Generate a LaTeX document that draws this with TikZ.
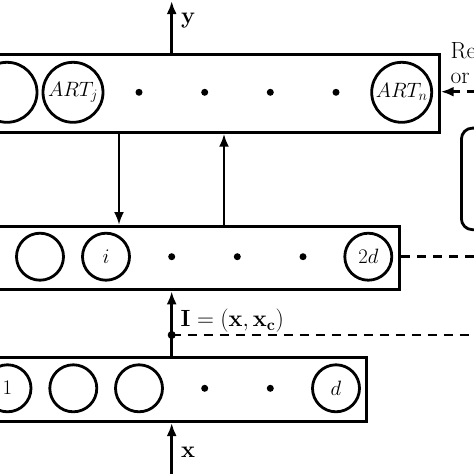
\documentclass[tikz,border=0pt]{standalone}
\usepackage{graphicx}
\usetikzlibrary{arrows.meta}
\newcommand{\biglbl}[1]{\scalebox{1.13}{#1}}
\begin{document}
\begin{tikzpicture}[x=1pt,y=-1pt,
  every node/.style={font=\fontsize{20.74}{25}\selectfont},
  layerbox/.style={draw,line width=3pt,rectangle,inner sep=0pt},
  bigunit/.style={draw,circle,line width=2.8pt,minimum size=60pt,inner sep=0pt},
  unit/.style={draw,circle,line width=2.8pt,minimum size=47pt,inner sep=0pt},
  ell/.style={circle,fill,inner sep=0pt,minimum size=7pt},
  conn/.style={line width=2.8pt,-{Latex[length=13pt,width=10pt]}},
  dashconn/.style={line width=2.8pt,dash pattern=on 9pt off 7pt},
  lbl/.style={inner sep=0pt}]
\useasboundingbox (0,0) rectangle (474,474);
\clip (0,0) rectangle (474,474);
% layer boxes
\node[layerbox,minimum width=520pt,minimum height=77.4pt,anchor=north east] (top) at (440.7,53.3) {};
\node[layerbox,minimum width=520pt,minimum height=63.3pt,anchor=north east] (mid) at (401,225) {};
\node[layerbox,minimum width=520pt,minimum height=64.3pt,anchor=north east] (bot) at (368.3,355.7) {};
% top layer
\node[bigunit] (t0) at (7,92.3) {};
\node[bigunit] (tj) at (73,92.3) {$ART_j$};
\node[ell] (td1) at (139,92.3) {};
\node[ell] (td2) at (204.7,92.3) {};
\node[ell] (td3) at (270.3,92.3) {};
\node[ell] (td4) at (336,92.3) {};
\node[bigunit] (tn) at (401.7,92.3) {$ART_n$};
% middle layer
\node[unit] (m0) at (40,256.7) {};
\node[unit] (mi) at (106,256.7) {$i$};
\node[ell] (md1) at (171.7,256.7) {};
\node[ell] (md2) at (237.3,256.7) {};
\node[ell] (md3) at (303,256.7) {};
\node[unit] (m2d) at (368.3,256.7) {$2d$};
% bottom layer
\node[unit] (b1) at (7.5,388.3) {$1$};
\node[unit] (b2) at (73.3,388.3) {};
\node[unit] (b3) at (139,388.3) {};
\node[ell] (bd1) at (204.7,388.3) {};
\node[ell] (bd2) at (270.3,388.3) {};
\node[unit] (bd) at (336,388.3) {$d$};
% coordinates
\coordinate (yout) at (171.7,1);
\coordinate (xin) at (171.7,476);
\node[circle,fill,inner sep=0pt,minimum size=8pt] (junc) at (171.7,335) {};
\coordinate (dashA) at (476,256.7);
\coordinate (dashB) at (476,335);
\coordinate (dashC) at (476,91.7);
% connectors
\draw[conn] (top.north -| yout) -- (yout);
\draw[conn] (top.south -| 119,0) -- (mid.north -| 119,0);
\draw[conn] (mid.north -| 224,0) -- (top.south -| 224,0);
\draw[conn] (bot.north -| junc) -- (mid.south -| junc);
\draw[conn] (xin) -- (bot.south -| xin);
\draw[dashconn] (mid.east |- m2d) -- (dashA);
\draw[dashconn] (junc.center) -- (dashB);
\draw[dashconn,-{Latex[length=13pt,width=10pt]}] (dashC) -- (top.east |- dashC);
% rounded box on the right
\node[draw,line width=2.8pt,rounded corners=11pt,minimum width=120pt,minimum height=101.6pt,anchor=north west] (side) at (460,126.7) {};
% labels
\node[lbl,anchor=west] (ylbl) at (181,20.7) {\biglbl{$\mathbf{y}$}};
\node[lbl,anchor=west] (xlbl) at (181,452.7) {\biglbl{$\mathbf{x}$}};
\node[lbl,anchor=west] (ilbl) at (180.5,321) {\biglbl{$\mathbf{I}=(\mathbf{x},\mathbf{x_c})$}};
\node[lbl,anchor=west] (re) at (450.5,50.7) {\biglbl{Re}};
\node[lbl,anchor=west] (or) at (450.5,78) {\biglbl{or}};
\end{tikzpicture}
\end{document}
